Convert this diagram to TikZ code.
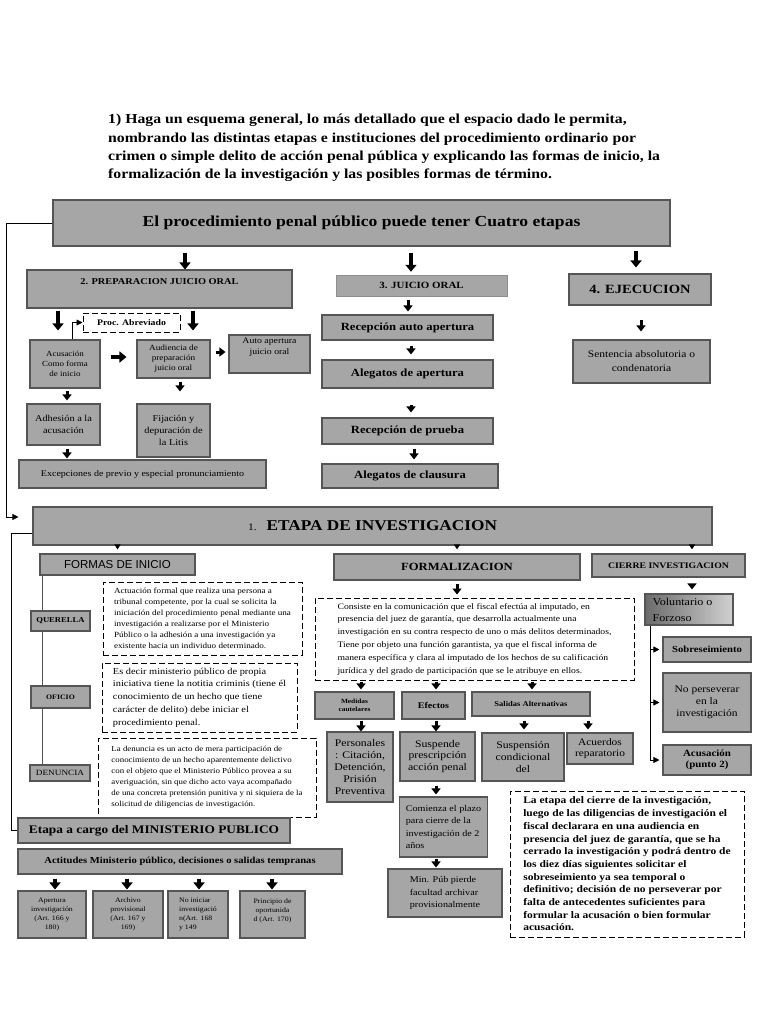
\documentclass[tikz,border=0pt]{standalone}
\usepackage{fontspec}
\setmainfont{Liberation Serif}[FakeStretch=1.15]
\newfontfamily\arialfont{Liberation Sans}
\usepackage{xcolor}
\usetikzlibrary{arrows.meta}
\definecolor{procgray}{RGB}{166, 166, 166}
\definecolor{procedge}{RGB}{85, 85, 85}

\tikzset{
  gbox/.style={draw=procedge, fill=procgray, line width=1.1pt, align=center, inner sep=1pt},
  dbox/.style={draw=black, fill=white, line width=1pt, dash pattern=on 6pt off 3pt, align=left, inner xsep=6pt, inner ysep=2pt},
  fatarrow/.style={line width=4pt, -{Triangle[width=11pt,length=7pt]}},
  midarrow/.style={line width=3pt, -{Triangle[width=9pt,length=6pt]}},
  thinarrow/.style={line width=1.8pt, -{Triangle[width=6pt,length=5pt]}},
  pointer/.style={line width=0.8pt, -{Triangle[width=6pt,length=6pt]}},
  branch/.style={line width=1pt, draw=procedge},
}

\begin{document}
\begin{tikzpicture}[x=1pt, y=-1pt]
\fill[white] (0,0) rectangle (768,1024);
\useasboundingbox (0,0) rectangle (768,1024);

% question
\node[anchor=north west, inner sep=0pt, align=left, font=\bfseries\fontsize{13.7}{18.3}\selectfont] (question) at (108,114) {1) Haga un esquema general, lo más detallado que el espacio dado le permita,\\nombrando las distintas etapas e instituciones del procedimiento ordinario por\\crimen o simple delito de acción penal pública y explicando las formas de inicio, la\\formalización de la investigación y las posibles formas de término.};

\node[gbox, minimum width=617, minimum height=46, font=\bfseries\fontsize{15.3}{18}\selectfont] (head) at (361.5,223) {El procedimiento penal público puede tener Cuatro etapas};

% 2. preparacion juicio oral
\node[gbox, minimum width=265, minimum height=38, font=\bfseries\fontsize{9}{10}\selectfont] (prep) at (159.5,289) {2. PREPARACION JUICIO ORAL\\[4pt]\mbox{}};
\node[gbox, minimum width=70, minimum height=48, font=\fontsize{7.8}{10}\selectfont] (acus) at (65,364) {Acusación\\Como forma\\de inicio};
\node[dbox, align=center, minimum width=97, minimum height=19, font=\bfseries\fontsize{8.5}{10}\selectfont] (abrev) at (131.5,322.5) {Proc. Abreviado};
\node[gbox, minimum width=73, minimum height=38, font=\fontsize{8}{10}\selectfont] (aud) at (173.5,359) {Audiencia de\\preparación\\juicio oral};
\node[gbox, minimum width=81, minimum height=38, font=\fontsize{8.5}{11}\selectfont] (auto) at (269.5,354) {Auto apertura\\juicio oral\\[4pt]\mbox{}};
\node[gbox, minimum width=73, minimum height=41, font=\fontsize{9}{12}\selectfont] (adh) at (63.5,424.5) {Adhesión a la\\acusación};
\node[gbox, minimum width=73, minimum height=53, font=\fontsize{9}{12}\selectfont] (fij) at (173.5,430.5) {Fijación y\\depuración de\\la Litis};
\node[gbox, minimum width=247, minimum height=28, font=\fontsize{8.7}{10}\selectfont] (excep) at (142.5,474) {Excepciones de previo y especial pronunciamiento};

% 3. juicio oral
\node[gbox, draw=procgray!85!black, line width=0.5pt, minimum width=171, minimum height=21, font=\bfseries\fontsize{9.5}{11}\selectfont] (juicio) at (421.5,285.5) {3. JUICIO ORAL};
\node[gbox, minimum width=171, minimum height=25, font=\bfseries\fontsize{11}{13}\selectfont] (recauto) at (407.5,327.5) {Recepción auto apertura};
\node[gbox, minimum width=171, minimum height=28, font=\bfseries\fontsize{11}{13}\selectfont] (alegap) at (407.5,374) {Alegatos de apertura};
\node[gbox, minimum width=171, minimum height=26, font=\bfseries\fontsize{11}{13}\selectfont] (recprueba) at (407.5,431) {Recepción de prueba};
\node[gbox, minimum width=176, minimum height=24, font=\bfseries\fontsize{11}{13}\selectfont] (alegcl) at (410,476) {Alegatos de clausura};

% 4. ejecucion
\node[gbox, minimum width=142, minimum height=31, font=\bfseries\fontsize{12.6}{14}\selectfont] (ejec) at (640,289.5) {4. EJECUCION};
\node[gbox, minimum width=137, minimum height=43, font=\fontsize{10}{14}\selectfont] (sent) at (641.5,361.5) {Sentencia absolutoria o\\condenatoria};

\draw[fatarrow, shorten <=6pt] (head.south -| 185,0) -- (prep.north -| 185,0);
\draw[fatarrow, shorten <=6pt, shorten >=3pt] (head.south -| 411,0) -- (juicio.north -| 411,0);
\draw[fatarrow, shorten <=4pt, shorten >=6pt] (head.south -| 636,0) -- (ejec.north -| 636,0);

\draw[fatarrow, shorten <=2pt, shorten >=9pt] (prep.south -| 58,0) -- (acus.north -| 58,0);
\draw[fatarrow, shorten <=2pt, shorten >=9pt] (prep.south -| 193,0) -- (aud.north -| 193,0);
\draw[pointer] (acus.north -| 72,0) |- (abrev.west);
\draw[fatarrow, shorten <=10pt, shorten >=10pt] (acus.east |- 0,357) -- (aud.west |- 0,357);
\draw[midarrow, shorten <=5pt, shorten >=3pt] (aud.east |- 0,352) -- (auto.west |- 0,352);
\draw[midarrow, shorten <=3pt, shorten >=12pt] (aud.south -| 180,0) -- (fij.north -| 180,0);
\draw[midarrow, shorten <=2pt, shorten >=3pt] (acus.south -| 67,0) -- (adh.north -| 67,0);
\draw[midarrow, shorten <=3pt, shorten >=1pt] (adh.south -| 67,0) -- (excep.north -| 67,0);

\draw[midarrow, shorten <=4pt, shorten >=3pt] (juicio.south -| 408,0) -- (recauto.north -| 408,0);
\draw[midarrow, shorten <=5pt, shorten >=5pt] (recauto.south -| 411,0) -- (alegap.north -| 411,0);
\draw[midarrow, shorten <=16pt, shorten >=5pt] (alegap.south -| 411,0) -- (recprueba.north -| 411,0);
\draw[midarrow, shorten <=4pt, shorten >=4pt] (recprueba.south -| 414,0) -- (alegcl.north -| 414,0);
\draw[midarrow, shorten <=14pt, shorten >=8pt] (ejec.south -| 641,0) -- (sent.north -| 641,0);

% 1. etapa de investigacion
\node[gbox, minimum width=679, minimum height=38] (inv) at (372.5,526) {\fontsize{10}{12}\selectfont 1.\hspace{10pt}\bfseries\fontsize{15}{17}\selectfont ETAPA DE INVESTIGACION};
\draw[pointer, shorten >=14pt] (head.west) -- ++(-46,0) |- ([yshift=9pt]inv.west);

\node[gbox, minimum width=155, minimum height=21, font=\arialfont\fontsize{11.5}{13}\selectfont] (formas) at (117.5,564.5) {FORMAS DE INICIO};
\node[gbox, minimum width=59, minimum height=20, font=\bfseries\fontsize{7.5}{9}\selectfont] (quer) at (60.5,621) {QUERELLA};
\node[gbox, minimum width=59, minimum height=22, font=\bfseries\fontsize{6.8}{8}\selectfont] (ofi) at (60.5,697) {OFICIO};
\node[gbox, minimum width=60, minimum height=16, font=\fontsize{8}{9}\selectfont] (denun) at (60,773) {DENUNCIA};
\draw[branch] (formas.south -| 42,0) -- (quer.north -| 42,0);
\draw[branch] (quer.south -| 42,0) -- (ofi.north -| 42,0);
\draw[branch] (ofi.south -| 42,0) -- (denun.north -| 42,0);

\node[dbox, minimum width=199, minimum height=73, font=\fontsize{7.9}{11}\selectfont] (quertxt) at (202.5,618.5) {Actuación formal que realiza una persona a\\tribunal competente, por la cual se solicita la\\iniciación del procedimiento penal mediante una\\investigación a realizarse por el Ministerio\\Público o la adhesión a una investigación ya\\existente hacia un individuo determinado.};
\node[dbox, minimum width=195, minimum height=69, font=\fontsize{9}{12.8}\selectfont] (ofitxt) at (199.5,697.5) {Es decir ministerio público de propia\\iniciativa tiene la notitia criminis (tiene él\\conocimiento de un hecho que tiene\\carácter de delito) debe iniciar el\\procedimiento penal.};
\node[dbox, minimum width=218, minimum height=79, font=\fontsize{7.7}{11}\selectfont] (dentxt) at (207,777.5) {La denuncia es un acto de mera participación de\\conocimiento de un hecho aparentemente delictivo\\con el objeto que el Ministerio Público provea a su\\averiguación, sin que dicho acto vaya acompañado\\de una concreta pretensión punitiva y ni siquiera de la\\solicitud de diligencias de investigación.};

% ministerio publico
\node[gbox, minimum width=272, minimum height=25, font=\bfseries\fontsize{11.6}{13}\selectfont] (mp) at (154,830.5) {Etapa a cargo del MINISTERIO PUBLICO};
\draw[line width=0.8pt] ([yshift=-7pt]inv.west) -- ++(-21,0) |- (mp.west);
\node[gbox, minimum width=324, minimum height=25, font=\bfseries\fontsize{9.2}{11}\selectfont] (actit) at (180,861.5) {Actitudes Ministerio público, decisiones o salidas tempranas};
\node[gbox, minimum width=68, minimum height=47, font=\fontsize{6.8}{8.8}\selectfont] (apert) at (52,914.5) {Apertura\\investigación\\(Art. 166 y\\180)};
\node[gbox, minimum width=70, minimum height=47, font=\fontsize{6.8}{8.8}\selectfont] (archivo) at (128,914.5) {Archivo\\provisional\\(Art. 167 y\\169)};
\node[gbox, minimum width=60, minimum height=47, align=left, font=\fontsize{6.8}{8.8}\selectfont] (noinic) at (198,914.5) {No iniciar\\investigació\\n(Art. 168\\y 149};
\node[gbox, minimum width=65, minimum height=47, font=\fontsize{6.8}{8.8}\selectfont] (princ) at (272.5,914.5) {Principio de\\oportunida\\d (Art. 170)\\\mbox{}};
\draw[fatarrow, shorten <=4pt, shorten >=1pt] (actit.south -| 55,0) -- (apert.north -| 55,0);
\draw[fatarrow, shorten <=4pt, shorten >=1pt] (actit.south -| 127,0) -- (archivo.north -| 127,0);
\draw[fatarrow, shorten <=4pt, shorten >=1pt] (actit.south -| 199,0) -- (noinic.north -| 199,0);
\draw[fatarrow, shorten <=4pt, shorten >=1pt] (actit.south -| 272,0) -- (princ.north -| 272,0);

% formalizacion
\node[gbox, minimum width=246, minimum height=26, font=\bfseries\fontsize{11}{13}\selectfont] (formal) at (457,567) {FORMALIZACION};
\node[dbox, minimum width=319, minimum height=82, font=\fontsize{8.4}{12.8}\selectfont] (formtxt) at (474.5,639) {Consiste en la comunicación que el fiscal efectúa al imputado, en\\presencia del juez de garantía, que desarrolla actualmente una\\investigación en su contra respecto de uno o más delitos determinados,\\Tiene por objeto una función garantista, ya que el fiscal informa de\\manera específica y clara al imputado de los hechos de su calificación\\jurídica y del grado de participación que se le atribuye en ellos.};
\node[gbox, minimum width=79, minimum height=27, font=\bfseries\fontsize{6.4}{7.5}\selectfont] (medidas) at (354.5,705.5) {Medidas\\cautelares};
\node[gbox, minimum width=63, minimum height=27, font=\bfseries\fontsize{8.7}{10}\selectfont] (efectos) at (433.5,705.5) {Efectos};
\node[gbox, minimum width=118, minimum height=24, font=\bfseries\fontsize{7.4}{9}\selectfont] (salidas) at (531,704) {Salidas Alternativas};
\node[gbox, minimum width=66, minimum height=70, font=\fontsize{10.2}{11.8}\selectfont] (person) at (360,767) {Personales\\: Citación,\\Detención,\\Prisión\\Preventiva};
\node[gbox, minimum width=75, minimum height=49, font=\fontsize{10.2}{11.8}\selectfont] (suspende) at (437.5,756.5) {Suspende\\prescripción\\acción penal};
\node[gbox, minimum width=82, minimum height=48, font=\fontsize{10.2}{11.8}\selectfont] (suspcond) at (523,757) {Suspensión\\condicional\\del};
\node[gbox, minimum width=66, minimum height=31, font=\fontsize{9.9}{11.5}\selectfont] (acuerdos) at (600,748.5) {Acuerdos\\reparatorio};
\node[gbox, minimum width=88, minimum height=60, align=left, font=\fontsize{8.8}{12.5}\selectfont] (comienza) at (443.5,827) {Comienza el plazo\\para cierre de la\\investigación de 2\\años};
\node[gbox, minimum width=114, minimum height=48, align=left, font=\fontsize{8.8}{12.5}\selectfont] (minpub) at (445,893) {Min. Púb pierde\\facultad archivar\\provisionalmente};

\draw[midarrow, shorten <=3pt, shorten >=3pt] (formal.south -| 457,0) -- (formtxt.north -| 457,0);
\draw[midarrow, shorten <=1pt, shorten >=2pt] (formtxt.south -| 361,0) -- (medidas.north -| 361,0);
\draw[midarrow, shorten <=1pt, shorten >=2pt] (formtxt.south -| 436,0) -- (efectos.north -| 436,0);
\draw[midarrow, shorten <=1pt, shorten >=2pt] (formtxt.south -| 532,0) -- (salidas.north -| 532,0);
\draw[midarrow, shorten <=1pt, shorten >=0pt] (medidas.south -| 361,0) -- (person.north -| 361,0);
\draw[midarrow, shorten <=1pt, shorten >=0pt] (efectos.south -| 436,0) -- (suspende.north -| 436,0);
\draw[midarrow, shorten <=4pt, shorten >=3pt] (salidas.south -| 524,0) -- (suspcond.north -| 524,0);
\draw[midarrow, shorten <=4pt, shorten >=3pt] (salidas.south -| 588,0) -- (acuerdos.north -| 588,0);
\draw[midarrow, shorten <=4pt, shorten >=2pt] (suspende.south -| 436,0) -- (comienza.north -| 436,0);
\draw[midarrow, shorten <=1pt, shorten >=1pt] (comienza.south -| 436,0) -- (minpub.north -| 436,0);

% cierre investigacion
\node[gbox, minimum width=153, minimum height=23, font=\bfseries\fontsize{8.5}{10}\selectfont] (cierre) at (668.5,565.5) {CIERRE INVESTIGACION};
\node[draw=procedge, line width=1.1pt, left color=black!58, right color=black!18, minimum width=88, minimum height=31] (volunt) at (689,609.5) {};
\begin{scope}
  \clip (volunt.south west) rectangle (volunt.north east);
  \node[anchor=north west, align=left, inner sep=0pt, font=\fontsize{10.5}{16}\selectfont] (voltxt) at ([xshift=8pt,yshift=-5pt]volunt.north west) {Voluntario o\\Forzoso};
\end{scope}
\node[gbox, minimum width=88, minimum height=25, font=\bfseries\fontsize{9.3}{11}\selectfont] (sobre) at (707,649.5) {Sobreseimiento};
\node[gbox, minimum width=88, minimum height=59, font=\fontsize{10}{12}\selectfont] (noper) at (707,702.5) {No perseverar\\en la\\investigación};
\node[gbox, minimum width=88, minimum height=30, font=\bfseries\fontsize{9.5}{11}\selectfont] (acus2) at (707,760) {Acusación\\(punto 2)};
\draw[line width=0.8pt] (volunt.south -| 650,0) -- (acus2.west -| 650,0);
\draw[pointer, shorten >=3pt] (sobre.west -| 650,0) -- (sobre.west);
\draw[pointer, shorten >=3pt] (noper.west -| 650,0) -- (noper.west);
\draw[pointer, shorten >=3pt] (acus2.west -| 650,0) -- (acus2.west);

\draw[midarrow, shorten <=6pt, shorten >=4pt] (cierre.south -| 692,0) -- (volunt.north -| 692,0);

\node[dbox, minimum width=234, minimum height=146, font=\bfseries\fontsize{10}{12.7}\selectfont] (cierretxt) at (627,864) {La etapa del cierre de la investigación,\\luego de las diligencias de investigación el\\fiscal declarara en una audiencia en\\presencia del juez de garantía, que se ha\\cerrado la investigación y podrá dentro de\\los diez días siguientes solicitar el\\sobreseimiento ya sea temporal o\\definitivo; decisión de no perseverar por\\falta de antecedentes suficientes para\\formular la acusación o bien formular\\acusación.};

% arrows out of etapa de investigacion
\draw[thinarrow, shorten >=4pt] (inv.south -| formas.north) -- (formas.north);
\draw[thinarrow, shorten >=4pt] (inv.south -| formal.north) -- (formal.north);
\draw[thinarrow, shorten >=4pt] (inv.south -| 692,0) -- (cierre.north -| 692,0);
\end{tikzpicture}
\end{document}
